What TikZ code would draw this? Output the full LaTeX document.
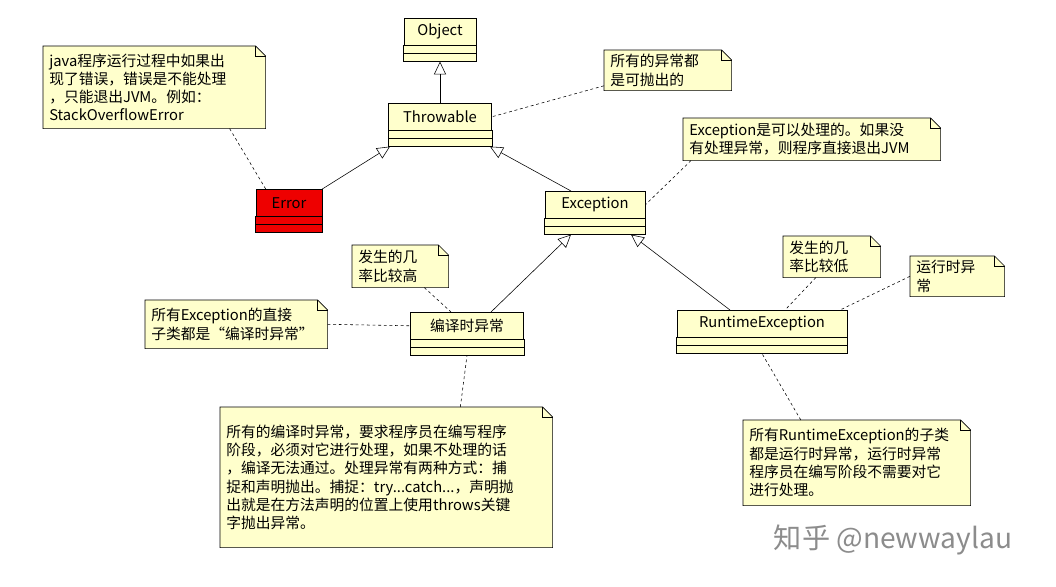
\documentclass[tikz,border=0pt]{standalone}
\usepackage{fontspec}
\setmainfont{Noto Sans CJK SC}
\usetikzlibrary{arrows.meta,backgrounds}
\definecolor{notebg}{RGB}{255,255,204}
\definecolor{errred}{RGB}{238,0,0}

\tikzset{
  umlname/.style={draw,anchor=north,minimum height=0.675cm,inner sep=1pt,font=\fontsize{10.5}{12}\selectfont},
  notetext/.style={anchor=north west,align=left,inner sep=0.1cm,font=\fontsize{10.5}{13}\selectfont},
  link/.style={dashed,dash pattern=on 2pt off 2pt,thin},
  isa/.style={-{Triangle[open,length=0.32cm,width=0.3cm]},thin}
}

% class box: fill, id, x, y, width, name
\newcommand\umlclass[6]{%
  \node[umlname,fill=#1,minimum width=#5] (#2) at (#3,#4) {#6};
  \draw[fill=#1] (#2.south west) rectangle ([yshift=-0.2cm]#2.south east);
  \draw[fill=#1] ([yshift=-0.2cm]#2.south west) rectangle ([yshift=-0.4cm]#2.south east);
  \coordinate (#2-b) at ([yshift=-0.4cm]#2.south);}

% note: id, x, y, width, height, text
\newcommand\umlnote[6]{%
  \node[notetext,minimum width=#4,minimum height=#5,text width=#4-0.3cm] (#1) at (#2,#3) {#6};
  \begin{pgfonlayer}{background}
    \draw[fill=notebg] (#1.north west) -- ([xshift=-0.25cm]#1.north east)
      -- ([yshift=-0.25cm]#1.north east) -- (#1.south east) -- (#1.south west) -- cycle;
    \draw ([xshift=-0.25cm]#1.north east) -- ([xshift=-0.25cm,yshift=-0.25cm]#1.north east)
      -- ([yshift=-0.25cm]#1.north east);
  \end{pgfonlayer}}

\begin{document}
\begin{tikzpicture}[x=0.025cm,y=-0.025cm]
  \useasboundingbox (0,0) rectangle (1056,586);

  % classes
  \umlclass{notebg}{obj}{440}{18}{1.8cm}{Object}
  \umlclass{notebg}{thr}{440}{103}{2.575cm}{Throwable}
  \umlclass{errred}{err}{289}{189}{1.65cm}{Error}
  \umlclass{notebg}{exc}{595}{191}{2.5cm}{Exception}
  \umlclass{notebg}{cte}{467}{312}{2.825cm}{编译时异常}
  \umlclass{notebg}{rte}{762}{310}{4.25cm}{RuntimeException}

  % notes
  \umlnote{n1}{43}{46}{5.55cm}{2.05cm}{java程序运行过程中如果出\\现了错误，错误是不能处理\\，只能退出JVM。例如：\\StackOverflowError}
  \umlnote{n2}{604}{50}{3.175cm}{1cm}{所有的异常都\\是可抛出的}
  \umlnote{n3}{683}{118}{6.425cm}{1.05cm}{Exception是可以处理的。如果没\\有处理异常，则程序直接退出JVM}
  \umlnote{n4}{352}{245}{2.4cm}{1.05cm}{发生的几\\率比较高}
  \umlnote{n5}{145}{300}{4.55cm}{1.2cm}{所有Exception的直接\\子类都是“编译时异常”}
  \umlnote{n6}{220}{407}{8.3cm}{3.5cm}{所有的编译时异常，要求程序员在编写程序\\阶段，必须对它进行处理，如果不处理的话\\，编译无法通过。处理异常有两种方式：捕\\捉和声明抛出。捕捉：try...catch...，声明抛\\出就是在方法声明的位置上使用throws关键\\字抛出异常。}
  \umlnote{n7}{783}{236}{2.425cm}{1.025cm}{发生的几\\率比较低}
  \umlnote{n8}{910}{256}{2.35cm}{1cm}{运行时异\\常}
  \umlnote{n9}{743}{420}{5.675cm}{2.125cm}{所有RuntimeException的子类\\都是运行时异常，运行时异常\\程序员在编写阶段不需要对它\\进行处理。}

  % inheritance
  \draw[isa] (thr.north) -- (obj-b);
  \draw[isa] (err.north east) -- ([xshift=-1.25cm]thr-b);
  \draw[isa] ([xshift=-0.6cm]exc.north) -- ([xshift=1.25cm]thr-b);
  \draw[isa] ([xshift=0.6cm]cte.north) -- ([xshift=-0.6cm]exc-b);
  \draw[isa] ([xshift=-0.8cm]rte.north) -- ([xshift=0.9cm]exc-b);

  % note links
  \draw[link] ([xshift=-0.9cm]n1.south east) -- ([xshift=0.25cm]err.north west);
  \draw[link] ([yshift=0.12cm]n2.south west) -- (thr.east);
  \draw[link] ([xshift=0.2cm]n3.south west) -- (exc.east);
  \draw[link] ([xshift=0.6cm]n4.south) -- ([xshift=-0.4cm]cte.north);
  \draw[link] (n5.east) -- (cte.west);
  \draw[link] ([xshift=1.85cm]n6.north) -- (cte-b);
  \draw[link] ([xshift=-0.4cm]n7.south) -- ([xshift=0.575cm]rte.north);
  \draw[link] (n8.west) -- ([xshift=1.95cm]rte.north);
  \draw[link] ([xshift=-1.4cm]n9.north) -- (rte-b);

  % watermark
  \node[text=black!45,font=\fontsize{20}{22}\selectfont] (wm) at (893,540) {知乎 @newwaylau};
\end{tikzpicture}
\end{document}
